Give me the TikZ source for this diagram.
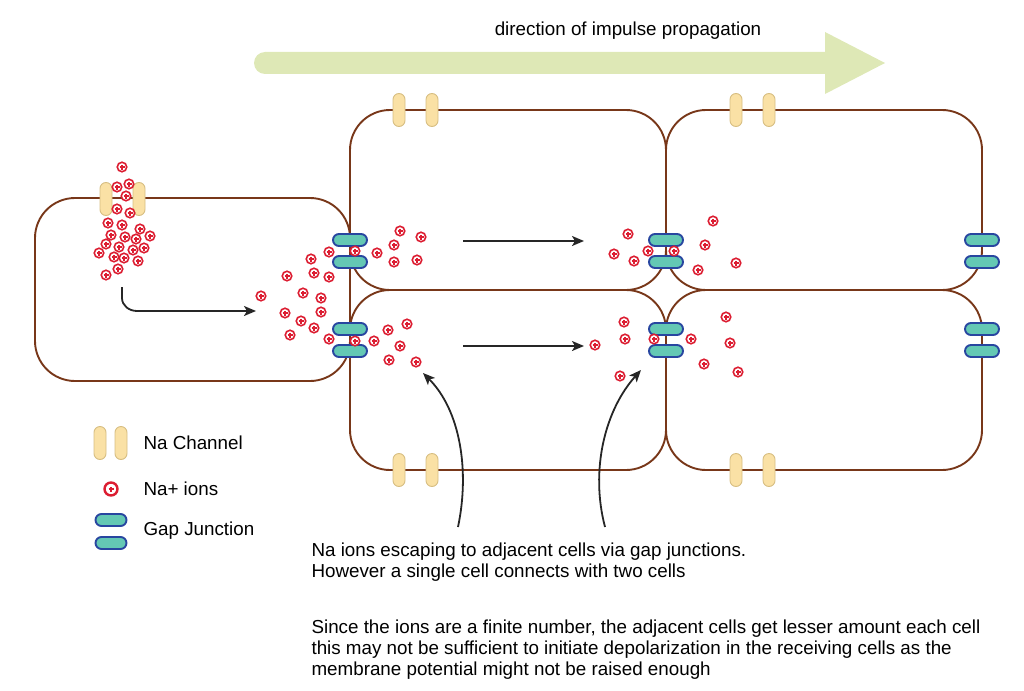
\documentclass[tikz,border=0pt]{standalone}
\usepackage{fontspec}
\setmainfont{Liberation Sans}
\usepackage{tikz}
\usetikzlibrary{arrows.meta, positioning, shapes.misc}

\definecolor{membrane}{RGB}{120,55,25}
\definecolor{chanfill}{RGB}{250,225,165}
\definecolor{chandraw}{RGB}{215,190,130}
\definecolor{gapfill}{RGB}{100,200,180}
\definecolor{gapdraw}{RGB}{40,70,160}
\definecolor{ionred}{RGB}{220,30,50}
\definecolor{flowgreen}{RGB}{222,232,182}

\tikzset{
  cell/.style={draw=membrane, line width=1.9pt, rounded corners=40pt},
  nachan/.style={rounded rectangle, rounded rectangle arc length=180, rotate=90, draw=chandraw, fill=chanfill, line width=0.9pt, minimum width=33pt, minimum height=12pt, inner sep=0pt},
  gapj/.style={rounded rectangle, draw=gapdraw, fill=gapfill, line width=1.9pt, minimum width=34pt, minimum height=12pt, inner sep=0pt},
  ion/.style={circle, draw=ionred, fill=white, line width=1.6pt, minimum size=9.5pt, inner sep=0pt,
    path picture={\draw[ionred, line width=1.2pt] (path picture bounding box.center) ++(-2.5pt,0) -- ++(5pt,0)
      (path picture bounding box.center) ++(0,-2.5pt) -- ++(0,5pt);}},
  flow/.style={-{Stealth[length=12pt,width=10pt,inset=3pt]}, line width=1.8pt, black!85},
  label/.style={anchor=west, font=\fontsize{18.8}{21}\selectfont, align=left}
}

\begin{document}
\begin{tikzpicture}[x=1pt, y=-1pt]
  \useasboundingbox (0,0) rectangle (1024,690);

  % Propagation arrow
  \fill[flowgreen] (265,63) circle (11);
  \fill[flowgreen] (265,52) -- (825,52) -- (825,32) -- (885,63) -- (825,94) -- (825,74) -- (265,74) -- cycle;
  \node[label, anchor=center] (title) at (628,31) {direction of impulse propagation};

  % Cells
  \draw[cell] (35,198) rectangle (350,381);
  \draw[cell] (350,110) rectangle (666,290);
  \draw[cell] (350,290) rectangle (666,470);
  \draw[cell] (666,110) rectangle (982,290);
  \draw[cell] (666,290) rectangle (982,470);

  % Na channels
  \foreach \x/\y [count=\i] in {106/199, 139/199, 399/110, 432/110, 736/110, 769/110,
                                399/470, 432/470, 736/470, 769/470}
    \node[nachan] (chan-\i) at (\x,\y) {};

  % Gap junctions
  \foreach \x [count=\i] in {350, 666, 982} {
    \node[gapj] (gapa-\i) at (\x,240) {};
    \node[gapj] (gapb-\i) at (\x,262) {};
    \node[gapj] (gapc-\i) at (\x,329) {};
    \node[gapj] (gapd-\i) at (\x,351) {};
  }

  % Na+ ions
  \foreach \x/\y [count=\i] in {122/167, 117/187, 129/184, 126/196, 117/209, 130/213, 108/223, 122/225,
      140/229, 111/235, 125/237, 136/239, 150/236, 106/244, 119/247, 133/250, 144/248, 99/253,
      114/257, 124/258, 138/261, 118/269, 106/275,
      311/259, 329/252, 314/273, 329/277, 287/276, 261/296, 303/293, 321/298, 285/313, 321/312,
      301/321, 314/328, 290/335, 329/339,
      355/251, 377/253, 400/231, 421/237, 394/245, 394/262, 417/260,
      355/341, 374/341, 388/330, 407/324, 400/346, 389/360, 416/362,
      628/234, 614/254, 634/261, 648/251, 674/251, 705/245, 713/221, 698/270, 736/263,
      624/322, 625/339, 595/345, 654/339, 691/339, 726/317, 730/343, 704/364, 738/372, 620/376}
    \node[ion] (ion-\i) at (\x,\y) {};

  % Connectors
  \coordinate (escape-start) at (122,287);
  \coordinate (escape-end) at (256,311);
  \draw[flow] (escape-start) -- (122,298) to[out=-90,in=180] (137,311) -- (escape-end);
  \coordinate (top-from) at (463,241);
  \coordinate (top-to) at (584,241);
  \coordinate (bot-from) at (463,346);
  \coordinate (bot-to) at (584,346);
  \draw[flow] (top-from) -- (top-to);
  \draw[flow] (bot-from) -- (bot-to);
  \coordinate (note-left) at (458,527);
  \coordinate (note-right) at (605,527);
  \coordinate (hit-left) at (423,373);
  \coordinate (hit-right) at (641,370);
  \draw[flow] (note-left) .. controls (470,470) and (460,410) .. (hit-left);
  \draw[flow] (note-right) .. controls (590,470) and (605,410) .. (hit-right);

  % Legend
  \node[nachan] (key-chan-a) at (100,443) {};
  \node[nachan] (key-chan-b) at (121,443) {};
  \node[ion, minimum size=13pt, line width=2.4pt] (key-ion) at (111,489) {};
  \node[gapj, minimum width=31pt] (key-gap-a) at (111,520) {};
  \node[gapj, minimum width=31pt] (key-gap-b) at (111,543) {};
  \node[label] (key-chan-text) at (140,443) {Na Channel};
  \node[label] (key-ion-text) at (140,489) {Na+ ions};
  \node[label] (key-gap-text) at (140,531) {Gap Junction};

  % Notes
  \node[label, anchor=north west] (note-gap) at (308,539) {Na ions escaping to adjacent cells via gap junctions.\\However a single cell connects with two cells};
  \node[label, anchor=north west] (note-finite) at (308,616) {Since the ions are a finite number, the adjacent cells get lesser amount each cell\\this may not be sufficient to initiate depolarization in the receiving cells as the\\membrane potential might not be raised enough};
\end{tikzpicture}
\end{document}
